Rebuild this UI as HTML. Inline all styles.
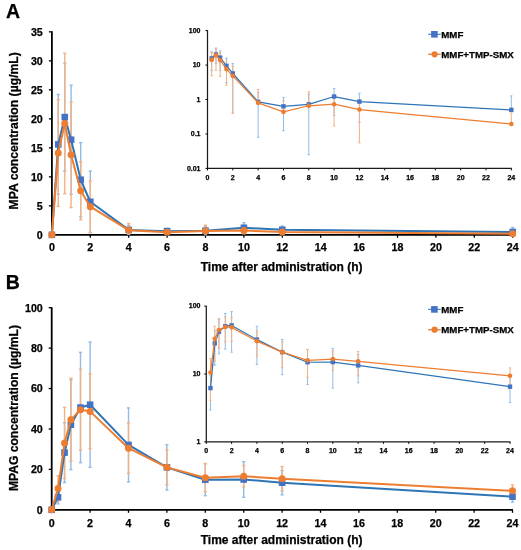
<!DOCTYPE html>
<html><head><meta charset="utf-8"><style>
html,body{margin:0;padding:0;background:#fff;}
svg{display:block;will-change:transform;}
text{font-family:"Liberation Sans",sans-serif;font-weight:bold;stroke:#000;stroke-width:0.25px;}
</style></head><body>
<svg width="521" height="550" viewBox="0 0 521 550">
<rect width="521" height="550" fill="#fff"/>
<text x="6.00" y="17.60" font-size="19.5" text-anchor="start"  >A</text>
<line x1="51.90" y1="234.85" x2="51.90" y2="237.85" stroke="#000" stroke-width="1.3"/>
<text x="51.90" y="251.30" font-size="10.7" text-anchor="middle"  >0</text>
<line x1="90.30" y1="234.85" x2="90.30" y2="237.85" stroke="#000" stroke-width="1.3"/>
<text x="90.30" y="251.30" font-size="10.7" text-anchor="middle"  >2</text>
<line x1="128.70" y1="234.85" x2="128.70" y2="237.85" stroke="#000" stroke-width="1.3"/>
<text x="128.70" y="251.30" font-size="10.7" text-anchor="middle"  >4</text>
<line x1="167.10" y1="234.85" x2="167.10" y2="237.85" stroke="#000" stroke-width="1.3"/>
<text x="167.10" y="251.30" font-size="10.7" text-anchor="middle"  >6</text>
<line x1="205.50" y1="234.85" x2="205.50" y2="237.85" stroke="#000" stroke-width="1.3"/>
<text x="205.50" y="251.30" font-size="10.7" text-anchor="middle"  >8</text>
<line x1="243.90" y1="234.85" x2="243.90" y2="237.85" stroke="#000" stroke-width="1.3"/>
<text x="243.90" y="251.30" font-size="10.7" text-anchor="middle"  >10</text>
<line x1="282.30" y1="234.85" x2="282.30" y2="237.85" stroke="#000" stroke-width="1.3"/>
<text x="282.30" y="251.30" font-size="10.7" text-anchor="middle"  >12</text>
<line x1="320.70" y1="234.85" x2="320.70" y2="237.85" stroke="#000" stroke-width="1.3"/>
<text x="320.70" y="251.30" font-size="10.7" text-anchor="middle"  >14</text>
<line x1="359.10" y1="234.85" x2="359.10" y2="237.85" stroke="#000" stroke-width="1.3"/>
<text x="359.10" y="251.30" font-size="10.7" text-anchor="middle"  >16</text>
<line x1="397.50" y1="234.85" x2="397.50" y2="237.85" stroke="#000" stroke-width="1.3"/>
<text x="397.50" y="251.30" font-size="10.7" text-anchor="middle"  >18</text>
<line x1="435.90" y1="234.85" x2="435.90" y2="237.85" stroke="#000" stroke-width="1.3"/>
<text x="435.90" y="251.30" font-size="10.7" text-anchor="middle"  >20</text>
<line x1="474.30" y1="234.85" x2="474.30" y2="237.85" stroke="#000" stroke-width="1.3"/>
<text x="474.30" y="251.30" font-size="10.7" text-anchor="middle"  >22</text>
<line x1="512.70" y1="234.85" x2="512.70" y2="237.85" stroke="#000" stroke-width="1.3"/>
<text x="512.70" y="251.30" font-size="10.7" text-anchor="middle"  >24</text>
<line x1="48.90" y1="234.85" x2="51.90" y2="234.85" stroke="#000" stroke-width="1.3"/>
<text x="42.80" y="238.65" font-size="10.7" text-anchor="end"  >0</text>
<line x1="48.90" y1="205.85" x2="51.90" y2="205.85" stroke="#000" stroke-width="1.3"/>
<text x="42.80" y="209.65" font-size="10.7" text-anchor="end"  >5</text>
<line x1="48.90" y1="176.85" x2="51.90" y2="176.85" stroke="#000" stroke-width="1.3"/>
<text x="42.80" y="180.65" font-size="10.7" text-anchor="end"  >10</text>
<line x1="48.90" y1="147.85" x2="51.90" y2="147.85" stroke="#000" stroke-width="1.3"/>
<text x="42.80" y="151.65" font-size="10.7" text-anchor="end"  >15</text>
<line x1="48.90" y1="118.85" x2="51.90" y2="118.85" stroke="#000" stroke-width="1.3"/>
<text x="42.80" y="122.65" font-size="10.7" text-anchor="end"  >20</text>
<line x1="48.90" y1="89.85" x2="51.90" y2="89.85" stroke="#000" stroke-width="1.3"/>
<text x="42.80" y="93.65" font-size="10.7" text-anchor="end"  >25</text>
<line x1="48.90" y1="60.85" x2="51.90" y2="60.85" stroke="#000" stroke-width="1.3"/>
<text x="42.80" y="64.65" font-size="10.7" text-anchor="end"  >30</text>
<line x1="48.90" y1="31.85" x2="51.90" y2="31.85" stroke="#000" stroke-width="1.3"/>
<text x="42.80" y="35.65" font-size="10.7" text-anchor="end"  >35</text>
<line x1="51.90" y1="31.35" x2="51.90" y2="235.65" stroke="#000" stroke-width="1.8"/>
<line x1="51.10" y1="234.85" x2="513.20" y2="234.85" stroke="#000" stroke-width="1.8"/>
<line x1="58.24" y1="94.49" x2="58.24" y2="144.37" stroke="#92bce6" stroke-width="1.4"/>
<line x1="56.64" y1="94.49" x2="59.84" y2="94.49" stroke="#92bce6" stroke-width="1.4"/>
<line x1="58.24" y1="144.37" x2="58.24" y2="194.25" stroke="#92bce6" stroke-width="1.4"/>
<line x1="56.64" y1="194.25" x2="59.84" y2="194.25" stroke="#92bce6" stroke-width="1.4"/>
<line x1="64.76" y1="63.17" x2="64.76" y2="117.11" stroke="#92bce6" stroke-width="1.4"/>
<line x1="63.16" y1="63.17" x2="66.36" y2="63.17" stroke="#92bce6" stroke-width="1.4"/>
<line x1="64.76" y1="117.11" x2="64.76" y2="171.05" stroke="#92bce6" stroke-width="1.4"/>
<line x1="63.16" y1="171.05" x2="66.36" y2="171.05" stroke="#92bce6" stroke-width="1.4"/>
<line x1="71.10" y1="85.21" x2="71.10" y2="139.73" stroke="#92bce6" stroke-width="1.4"/>
<line x1="69.50" y1="85.21" x2="72.70" y2="85.21" stroke="#92bce6" stroke-width="1.4"/>
<line x1="71.10" y1="139.73" x2="71.10" y2="194.25" stroke="#92bce6" stroke-width="1.4"/>
<line x1="69.50" y1="194.25" x2="72.70" y2="194.25" stroke="#92bce6" stroke-width="1.4"/>
<line x1="80.70" y1="142.63" x2="80.70" y2="179.75" stroke="#92bce6" stroke-width="1.4"/>
<line x1="79.10" y1="142.63" x2="82.30" y2="142.63" stroke="#92bce6" stroke-width="1.4"/>
<line x1="80.70" y1="179.75" x2="80.70" y2="216.87" stroke="#92bce6" stroke-width="1.4"/>
<line x1="79.10" y1="216.87" x2="82.30" y2="216.87" stroke="#92bce6" stroke-width="1.4"/>
<line x1="90.30" y1="171.05" x2="90.30" y2="201.79" stroke="#92bce6" stroke-width="1.4"/>
<line x1="88.70" y1="171.05" x2="91.90" y2="171.05" stroke="#92bce6" stroke-width="1.4"/>
<line x1="90.30" y1="201.79" x2="90.30" y2="232.53" stroke="#92bce6" stroke-width="1.4"/>
<line x1="88.70" y1="232.53" x2="91.90" y2="232.53" stroke="#92bce6" stroke-width="1.4"/>
<line x1="128.70" y1="225.45" x2="128.70" y2="229.92" stroke="#92bce6" stroke-width="1.4"/>
<line x1="127.10" y1="225.45" x2="130.30" y2="225.45" stroke="#92bce6" stroke-width="1.4"/>
<line x1="128.70" y1="229.92" x2="128.70" y2="234.39" stroke="#92bce6" stroke-width="1.4"/>
<line x1="127.10" y1="234.39" x2="130.30" y2="234.39" stroke="#92bce6" stroke-width="1.4"/>
<line x1="167.10" y1="228.21" x2="167.10" y2="231.17" stroke="#92bce6" stroke-width="1.4"/>
<line x1="165.50" y1="228.21" x2="168.70" y2="228.21" stroke="#92bce6" stroke-width="1.4"/>
<line x1="167.10" y1="231.17" x2="167.10" y2="234.13" stroke="#92bce6" stroke-width="1.4"/>
<line x1="165.50" y1="234.13" x2="168.70" y2="234.13" stroke="#92bce6" stroke-width="1.4"/>
<line x1="205.50" y1="226.64" x2="205.50" y2="230.67" stroke="#92bce6" stroke-width="1.4"/>
<line x1="203.90" y1="226.64" x2="207.10" y2="226.64" stroke="#92bce6" stroke-width="1.4"/>
<line x1="205.50" y1="230.67" x2="205.50" y2="234.70" stroke="#92bce6" stroke-width="1.4"/>
<line x1="203.90" y1="234.70" x2="207.10" y2="234.70" stroke="#92bce6" stroke-width="1.4"/>
<line x1="243.90" y1="222.67" x2="243.90" y2="227.77" stroke="#92bce6" stroke-width="1.4"/>
<line x1="242.30" y1="222.67" x2="245.50" y2="222.67" stroke="#92bce6" stroke-width="1.4"/>
<line x1="243.90" y1="227.77" x2="243.90" y2="232.88" stroke="#92bce6" stroke-width="1.4"/>
<line x1="242.30" y1="232.88" x2="245.50" y2="232.88" stroke="#92bce6" stroke-width="1.4"/>
<line x1="282.30" y1="226.03" x2="282.30" y2="229.80" stroke="#92bce6" stroke-width="1.4"/>
<line x1="280.70" y1="226.03" x2="283.90" y2="226.03" stroke="#92bce6" stroke-width="1.4"/>
<line x1="282.30" y1="229.80" x2="282.30" y2="233.57" stroke="#92bce6" stroke-width="1.4"/>
<line x1="280.70" y1="233.57" x2="283.90" y2="233.57" stroke="#92bce6" stroke-width="1.4"/>
<line x1="512.70" y1="227.48" x2="512.70" y2="231.95" stroke="#92bce6" stroke-width="1.4"/>
<line x1="511.10" y1="227.48" x2="514.30" y2="227.48" stroke="#92bce6" stroke-width="1.4"/>
<line x1="512.70" y1="231.95" x2="512.70" y2="234.85" stroke="#92bce6" stroke-width="1.4"/>
<line x1="58.24" y1="99.71" x2="58.24" y2="153.07" stroke="#f4b183" stroke-width="1.4"/>
<line x1="56.64" y1="99.71" x2="59.84" y2="99.71" stroke="#f4b183" stroke-width="1.4"/>
<line x1="58.24" y1="153.07" x2="58.24" y2="206.43" stroke="#f4b183" stroke-width="1.4"/>
<line x1="56.64" y1="206.43" x2="59.84" y2="206.43" stroke="#f4b183" stroke-width="1.4"/>
<line x1="64.76" y1="53.31" x2="64.76" y2="123.49" stroke="#f4b183" stroke-width="1.4"/>
<line x1="63.16" y1="53.31" x2="66.36" y2="53.31" stroke="#f4b183" stroke-width="1.4"/>
<line x1="64.76" y1="123.49" x2="64.76" y2="193.67" stroke="#f4b183" stroke-width="1.4"/>
<line x1="63.16" y1="193.67" x2="66.36" y2="193.67" stroke="#f4b183" stroke-width="1.4"/>
<line x1="71.10" y1="102.03" x2="71.10" y2="154.81" stroke="#f4b183" stroke-width="1.4"/>
<line x1="69.50" y1="102.03" x2="72.70" y2="102.03" stroke="#f4b183" stroke-width="1.4"/>
<line x1="71.10" y1="154.81" x2="71.10" y2="207.59" stroke="#f4b183" stroke-width="1.4"/>
<line x1="69.50" y1="207.59" x2="72.70" y2="207.59" stroke="#f4b183" stroke-width="1.4"/>
<line x1="80.70" y1="161.77" x2="80.70" y2="190.77" stroke="#f4b183" stroke-width="1.4"/>
<line x1="79.10" y1="161.77" x2="82.30" y2="161.77" stroke="#f4b183" stroke-width="1.4"/>
<line x1="80.70" y1="190.77" x2="80.70" y2="219.77" stroke="#f4b183" stroke-width="1.4"/>
<line x1="79.10" y1="219.77" x2="82.30" y2="219.77" stroke="#f4b183" stroke-width="1.4"/>
<line x1="90.30" y1="180.91" x2="90.30" y2="206.72" stroke="#f4b183" stroke-width="1.4"/>
<line x1="88.70" y1="180.91" x2="91.90" y2="180.91" stroke="#f4b183" stroke-width="1.4"/>
<line x1="90.30" y1="206.72" x2="90.30" y2="232.53" stroke="#f4b183" stroke-width="1.4"/>
<line x1="88.70" y1="232.53" x2="91.90" y2="232.53" stroke="#f4b183" stroke-width="1.4"/>
<line x1="128.70" y1="223.54" x2="128.70" y2="230.21" stroke="#f4b183" stroke-width="1.4"/>
<line x1="127.10" y1="223.54" x2="130.30" y2="223.54" stroke="#f4b183" stroke-width="1.4"/>
<line x1="128.70" y1="230.21" x2="128.70" y2="234.85" stroke="#f4b183" stroke-width="1.4"/>
<line x1="167.10" y1="229.59" x2="167.10" y2="232.32" stroke="#f4b183" stroke-width="1.4"/>
<line x1="165.50" y1="229.59" x2="168.70" y2="229.59" stroke="#f4b183" stroke-width="1.4"/>
<line x1="167.10" y1="232.32" x2="167.10" y2="234.85" stroke="#f4b183" stroke-width="1.4"/>
<line x1="205.50" y1="225.18" x2="205.50" y2="231.03" stroke="#f4b183" stroke-width="1.4"/>
<line x1="203.90" y1="225.18" x2="207.10" y2="225.18" stroke="#f4b183" stroke-width="1.4"/>
<line x1="205.50" y1="231.03" x2="205.50" y2="234.85" stroke="#f4b183" stroke-width="1.4"/>
<line x1="243.90" y1="227.37" x2="243.90" y2="230.62" stroke="#f4b183" stroke-width="1.4"/>
<line x1="242.30" y1="227.37" x2="245.50" y2="227.37" stroke="#f4b183" stroke-width="1.4"/>
<line x1="243.90" y1="230.62" x2="243.90" y2="233.86" stroke="#f4b183" stroke-width="1.4"/>
<line x1="242.30" y1="233.86" x2="245.50" y2="233.86" stroke="#f4b183" stroke-width="1.4"/>
<line x1="282.30" y1="229.25" x2="282.30" y2="231.89" stroke="#f4b183" stroke-width="1.4"/>
<line x1="280.70" y1="229.25" x2="283.90" y2="229.25" stroke="#f4b183" stroke-width="1.4"/>
<line x1="282.30" y1="231.89" x2="282.30" y2="234.53" stroke="#f4b183" stroke-width="1.4"/>
<line x1="280.70" y1="234.53" x2="283.90" y2="234.53" stroke="#f4b183" stroke-width="1.4"/>
<line x1="512.70" y1="232.51" x2="512.70" y2="233.72" stroke="#f4b183" stroke-width="1.4"/>
<line x1="511.10" y1="232.51" x2="514.30" y2="232.51" stroke="#f4b183" stroke-width="1.4"/>
<line x1="512.70" y1="233.72" x2="512.70" y2="234.85" stroke="#f4b183" stroke-width="1.4"/>
<polyline points="51.90,234.85 58.24,144.37 64.76,117.11 71.10,139.73 80.70,179.75 90.30,201.79 128.70,229.92 167.10,231.17 205.50,230.67 243.90,227.77 282.30,229.80 512.70,231.95" fill="none" stroke="#2e75b6" stroke-width="2" stroke-linejoin="round"/>
<rect x="48.60" y="231.55" width="6.6" height="6.6" fill="#4472c4"/>
<rect x="54.94" y="141.07" width="6.6" height="6.6" fill="#4472c4"/>
<rect x="61.46" y="113.81" width="6.6" height="6.6" fill="#4472c4"/>
<rect x="67.80" y="136.43" width="6.6" height="6.6" fill="#4472c4"/>
<rect x="77.40" y="176.45" width="6.6" height="6.6" fill="#4472c4"/>
<rect x="87.00" y="198.49" width="6.6" height="6.6" fill="#4472c4"/>
<rect x="125.40" y="226.62" width="6.6" height="6.6" fill="#4472c4"/>
<rect x="163.80" y="227.87" width="6.6" height="6.6" fill="#4472c4"/>
<rect x="202.20" y="227.37" width="6.6" height="6.6" fill="#4472c4"/>
<rect x="240.60" y="224.47" width="6.6" height="6.6" fill="#4472c4"/>
<rect x="279.00" y="226.50" width="6.6" height="6.6" fill="#4472c4"/>
<rect x="509.40" y="228.65" width="6.6" height="6.6" fill="#4472c4"/>
<polyline points="51.90,234.85 58.24,153.07 64.76,123.49 71.10,154.81 80.70,190.77 90.30,206.72 128.70,230.21 167.10,232.32 205.50,231.03 243.90,230.62 282.30,231.89 512.70,233.72" fill="none" stroke="#ed7d31" stroke-width="2" stroke-linejoin="round"/>
<circle cx="51.90" cy="234.85" r="3.5" fill="#ed7d31"/>
<circle cx="58.24" cy="153.07" r="3.5" fill="#ed7d31"/>
<circle cx="64.76" cy="123.49" r="3.5" fill="#ed7d31"/>
<circle cx="71.10" cy="154.81" r="3.5" fill="#ed7d31"/>
<circle cx="80.70" cy="190.77" r="3.5" fill="#ed7d31"/>
<circle cx="90.30" cy="206.72" r="3.5" fill="#ed7d31"/>
<circle cx="128.70" cy="230.21" r="3.5" fill="#ed7d31"/>
<circle cx="167.10" cy="232.32" r="3.5" fill="#ed7d31"/>
<circle cx="205.50" cy="231.03" r="3.5" fill="#ed7d31"/>
<circle cx="243.90" cy="230.62" r="3.5" fill="#ed7d31"/>
<circle cx="282.30" cy="231.89" r="3.5" fill="#ed7d31"/>
<circle cx="512.70" cy="233.72" r="3.5" fill="#ed7d31"/>
<text transform="translate(17.8,130.8) rotate(-90)" font-size="12.2" text-anchor="middle" >MPA concentration (µg/mL)</text>
<text x="281.60" y="270.60" font-size="12" text-anchor="middle"  >Time after administration (h)</text>
<line x1="207.50" y1="168.40" x2="207.50" y2="170.40" stroke="#000" stroke-width="1"/>
<text x="207.50" y="179.50" font-size="7" text-anchor="middle"  >0</text>
<line x1="232.82" y1="168.40" x2="232.82" y2="170.40" stroke="#000" stroke-width="1"/>
<text x="232.82" y="179.50" font-size="7" text-anchor="middle"  >2</text>
<line x1="258.14" y1="168.40" x2="258.14" y2="170.40" stroke="#000" stroke-width="1"/>
<text x="258.14" y="179.50" font-size="7" text-anchor="middle"  >4</text>
<line x1="283.46" y1="168.40" x2="283.46" y2="170.40" stroke="#000" stroke-width="1"/>
<text x="283.46" y="179.50" font-size="7" text-anchor="middle"  >6</text>
<line x1="308.78" y1="168.40" x2="308.78" y2="170.40" stroke="#000" stroke-width="1"/>
<text x="308.78" y="179.50" font-size="7" text-anchor="middle"  >8</text>
<line x1="334.10" y1="168.40" x2="334.10" y2="170.40" stroke="#000" stroke-width="1"/>
<text x="334.10" y="179.50" font-size="7" text-anchor="middle"  >10</text>
<line x1="359.42" y1="168.40" x2="359.42" y2="170.40" stroke="#000" stroke-width="1"/>
<text x="359.42" y="179.50" font-size="7" text-anchor="middle"  >12</text>
<line x1="384.74" y1="168.40" x2="384.74" y2="170.40" stroke="#000" stroke-width="1"/>
<text x="384.74" y="179.50" font-size="7" text-anchor="middle"  >14</text>
<line x1="410.06" y1="168.40" x2="410.06" y2="170.40" stroke="#000" stroke-width="1"/>
<text x="410.06" y="179.50" font-size="7" text-anchor="middle"  >16</text>
<line x1="435.38" y1="168.40" x2="435.38" y2="170.40" stroke="#000" stroke-width="1"/>
<text x="435.38" y="179.50" font-size="7" text-anchor="middle"  >18</text>
<line x1="460.70" y1="168.40" x2="460.70" y2="170.40" stroke="#000" stroke-width="1"/>
<text x="460.70" y="179.50" font-size="7" text-anchor="middle"  >20</text>
<line x1="486.02" y1="168.40" x2="486.02" y2="170.40" stroke="#000" stroke-width="1"/>
<text x="486.02" y="179.50" font-size="7" text-anchor="middle"  >22</text>
<line x1="511.34" y1="168.40" x2="511.34" y2="170.40" stroke="#000" stroke-width="1"/>
<text x="511.34" y="179.50" font-size="7" text-anchor="middle"  >24</text>
<line x1="205.50" y1="168.40" x2="207.50" y2="168.40" stroke="#000" stroke-width="1"/>
<text x="200.50" y="170.60" font-size="7" text-anchor="end"  >0.01</text>
<line x1="205.50" y1="133.95" x2="207.50" y2="133.95" stroke="#000" stroke-width="1"/>
<text x="200.50" y="136.15" font-size="7" text-anchor="end"  >0.1</text>
<line x1="205.50" y1="99.50" x2="207.50" y2="99.50" stroke="#000" stroke-width="1"/>
<text x="200.50" y="101.70" font-size="7" text-anchor="end"  >1</text>
<line x1="205.50" y1="65.05" x2="207.50" y2="65.05" stroke="#000" stroke-width="1"/>
<text x="200.50" y="67.25" font-size="7" text-anchor="end"  >10</text>
<line x1="205.50" y1="30.60" x2="207.50" y2="30.60" stroke="#000" stroke-width="1"/>
<text x="200.50" y="32.80" font-size="7" text-anchor="end"  >100</text>
<line x1="207.50" y1="30.10" x2="207.50" y2="169.00" stroke="#1a1a1a" stroke-width="1.25"/>
<line x1="206.90" y1="168.40" x2="511.74" y2="168.40" stroke="#1a1a1a" stroke-width="1.25"/>
<line x1="211.68" y1="51.83" x2="211.68" y2="58.40" stroke="#92bce6" stroke-width="1"/>
<line x1="210.48" y1="51.83" x2="212.88" y2="51.83" stroke="#92bce6" stroke-width="1"/>
<line x1="211.68" y1="58.40" x2="211.68" y2="70.39" stroke="#92bce6" stroke-width="1"/>
<line x1="210.48" y1="70.39" x2="212.88" y2="70.39" stroke="#92bce6" stroke-width="1"/>
<line x1="215.98" y1="48.81" x2="215.98" y2="54.46" stroke="#92bce6" stroke-width="1"/>
<line x1="214.78" y1="48.81" x2="217.18" y2="48.81" stroke="#92bce6" stroke-width="1"/>
<line x1="215.98" y1="54.46" x2="215.98" y2="63.62" stroke="#92bce6" stroke-width="1"/>
<line x1="214.78" y1="63.62" x2="217.18" y2="63.62" stroke="#92bce6" stroke-width="1"/>
<line x1="220.16" y1="50.87" x2="220.16" y2="57.65" stroke="#92bce6" stroke-width="1"/>
<line x1="218.96" y1="50.87" x2="221.36" y2="50.87" stroke="#92bce6" stroke-width="1"/>
<line x1="220.16" y1="57.65" x2="220.16" y2="70.39" stroke="#92bce6" stroke-width="1"/>
<line x1="218.96" y1="70.39" x2="221.36" y2="70.39" stroke="#92bce6" stroke-width="1"/>
<line x1="226.49" y1="58.11" x2="226.49" y2="65.82" stroke="#92bce6" stroke-width="1"/>
<line x1="225.29" y1="58.11" x2="227.69" y2="58.11" stroke="#92bce6" stroke-width="1"/>
<line x1="226.49" y1="65.82" x2="226.49" y2="82.57" stroke="#92bce6" stroke-width="1"/>
<line x1="225.29" y1="82.57" x2="227.69" y2="82.57" stroke="#92bce6" stroke-width="1"/>
<line x1="232.82" y1="63.62" x2="232.82" y2="73.46" stroke="#92bce6" stroke-width="1"/>
<line x1="231.62" y1="63.62" x2="234.02" y2="63.62" stroke="#92bce6" stroke-width="1"/>
<line x1="232.82" y1="73.46" x2="232.82" y2="113.21" stroke="#92bce6" stroke-width="1"/>
<line x1="231.62" y1="113.21" x2="234.02" y2="113.21" stroke="#92bce6" stroke-width="1"/>
<line x1="258.14" y1="92.28" x2="258.14" y2="101.93" stroke="#92bce6" stroke-width="1"/>
<line x1="256.94" y1="92.28" x2="259.34" y2="92.28" stroke="#92bce6" stroke-width="1"/>
<line x1="258.14" y1="101.93" x2="258.14" y2="137.29" stroke="#92bce6" stroke-width="1"/>
<line x1="256.94" y1="137.29" x2="259.34" y2="137.29" stroke="#92bce6" stroke-width="1"/>
<line x1="283.46" y1="97.49" x2="283.46" y2="106.32" stroke="#92bce6" stroke-width="1"/>
<line x1="282.26" y1="97.49" x2="284.66" y2="97.49" stroke="#92bce6" stroke-width="1"/>
<line x1="283.46" y1="106.32" x2="283.46" y2="130.73" stroke="#92bce6" stroke-width="1"/>
<line x1="282.26" y1="130.73" x2="284.66" y2="130.73" stroke="#92bce6" stroke-width="1"/>
<line x1="308.78" y1="94.31" x2="308.78" y2="104.41" stroke="#92bce6" stroke-width="1"/>
<line x1="307.58" y1="94.31" x2="309.98" y2="94.31" stroke="#92bce6" stroke-width="1"/>
<line x1="308.78" y1="104.41" x2="308.78" y2="154.69" stroke="#92bce6" stroke-width="1"/>
<line x1="307.58" y1="154.69" x2="309.98" y2="154.69" stroke="#92bce6" stroke-width="1"/>
<line x1="334.10" y1="88.40" x2="334.10" y2="96.52" stroke="#92bce6" stroke-width="1"/>
<line x1="332.90" y1="88.40" x2="335.30" y2="88.40" stroke="#92bce6" stroke-width="1"/>
<line x1="334.10" y1="96.52" x2="334.10" y2="115.64" stroke="#92bce6" stroke-width="1"/>
<line x1="332.90" y1="115.64" x2="335.30" y2="115.64" stroke="#92bce6" stroke-width="1"/>
<line x1="359.42" y1="93.24" x2="359.42" y2="101.58" stroke="#92bce6" stroke-width="1"/>
<line x1="358.22" y1="93.24" x2="360.62" y2="93.24" stroke="#92bce6" stroke-width="1"/>
<line x1="359.42" y1="101.58" x2="359.42" y2="122.15" stroke="#92bce6" stroke-width="1"/>
<line x1="358.22" y1="122.15" x2="360.62" y2="122.15" stroke="#92bce6" stroke-width="1"/>
<line x1="511.34" y1="95.92" x2="511.34" y2="109.87" stroke="#92bce6" stroke-width="1"/>
<line x1="510.14" y1="95.92" x2="512.54" y2="95.92" stroke="#92bce6" stroke-width="1"/>
<line x1="211.68" y1="52.39" x2="211.68" y2="59.91" stroke="#f4b183" stroke-width="1"/>
<line x1="210.48" y1="52.39" x2="212.88" y2="52.39" stroke="#f4b183" stroke-width="1"/>
<line x1="211.68" y1="59.91" x2="211.68" y2="75.72" stroke="#f4b183" stroke-width="1"/>
<line x1="210.48" y1="75.72" x2="212.88" y2="75.72" stroke="#f4b183" stroke-width="1"/>
<line x1="215.98" y1="47.98" x2="215.98" y2="55.29" stroke="#f4b183" stroke-width="1"/>
<line x1="214.78" y1="47.98" x2="217.18" y2="47.98" stroke="#f4b183" stroke-width="1"/>
<line x1="215.98" y1="55.29" x2="215.98" y2="70.17" stroke="#f4b183" stroke-width="1"/>
<line x1="214.78" y1="70.17" x2="217.18" y2="70.17" stroke="#f4b183" stroke-width="1"/>
<line x1="220.16" y1="52.65" x2="220.16" y2="60.23" stroke="#f4b183" stroke-width="1"/>
<line x1="218.96" y1="52.65" x2="221.36" y2="52.65" stroke="#f4b183" stroke-width="1"/>
<line x1="220.16" y1="60.23" x2="220.16" y2="76.35" stroke="#f4b183" stroke-width="1"/>
<line x1="218.96" y1="76.35" x2="221.36" y2="76.35" stroke="#f4b183" stroke-width="1"/>
<line x1="226.49" y1="61.59" x2="226.49" y2="69.16" stroke="#f4b183" stroke-width="1"/>
<line x1="225.29" y1="61.59" x2="227.69" y2="61.59" stroke="#f4b183" stroke-width="1"/>
<line x1="226.49" y1="69.16" x2="226.49" y2="85.20" stroke="#f4b183" stroke-width="1"/>
<line x1="225.29" y1="85.20" x2="227.69" y2="85.20" stroke="#f4b183" stroke-width="1"/>
<line x1="232.82" y1="66.14" x2="232.82" y2="75.88" stroke="#f4b183" stroke-width="1"/>
<line x1="231.62" y1="66.14" x2="234.02" y2="66.14" stroke="#f4b183" stroke-width="1"/>
<line x1="232.82" y1="75.88" x2="232.82" y2="113.21" stroke="#f4b183" stroke-width="1"/>
<line x1="231.62" y1="113.21" x2="234.02" y2="113.21" stroke="#f4b183" stroke-width="1"/>
<line x1="258.14" y1="89.51" x2="258.14" y2="102.84" stroke="#f4b183" stroke-width="1"/>
<line x1="256.94" y1="89.51" x2="259.34" y2="89.51" stroke="#f4b183" stroke-width="1"/>
<line x1="283.46" y1="100.96" x2="283.46" y2="111.89" stroke="#f4b183" stroke-width="1"/>
<line x1="282.26" y1="100.96" x2="284.66" y2="100.96" stroke="#f4b183" stroke-width="1"/>
<line x1="308.78" y1="91.85" x2="308.78" y2="105.76" stroke="#f4b183" stroke-width="1"/>
<line x1="307.58" y1="91.85" x2="309.98" y2="91.85" stroke="#f4b183" stroke-width="1"/>
<line x1="334.10" y1="95.69" x2="334.10" y2="104.21" stroke="#f4b183" stroke-width="1"/>
<line x1="332.90" y1="95.69" x2="335.30" y2="95.69" stroke="#f4b183" stroke-width="1"/>
<line x1="334.10" y1="104.21" x2="334.10" y2="126.01" stroke="#f4b183" stroke-width="1"/>
<line x1="332.90" y1="126.01" x2="335.30" y2="126.01" stroke="#f4b183" stroke-width="1"/>
<line x1="359.42" y1="100.03" x2="359.42" y2="109.57" stroke="#f4b183" stroke-width="1"/>
<line x1="358.22" y1="100.03" x2="360.62" y2="100.03" stroke="#f4b183" stroke-width="1"/>
<line x1="359.42" y1="109.57" x2="359.42" y2="142.89" stroke="#f4b183" stroke-width="1"/>
<line x1="358.22" y1="142.89" x2="360.62" y2="142.89" stroke="#f4b183" stroke-width="1"/>
<line x1="511.34" y1="113.06" x2="511.34" y2="124.04" stroke="#f4b183" stroke-width="1"/>
<line x1="510.14" y1="113.06" x2="512.54" y2="113.06" stroke="#f4b183" stroke-width="1"/>
<polyline points="211.68,58.40 215.98,54.46 220.16,57.65 226.49,65.82 232.82,73.46 258.14,101.93 283.46,106.32 308.78,104.41 334.10,96.52 359.42,101.58 511.34,109.87" fill="none" stroke="#2e75b6" stroke-width="1.25" stroke-linejoin="round"/>
<rect x="209.48" y="56.20" width="4.4" height="4.4" fill="#4472c4"/>
<rect x="213.78" y="52.26" width="4.4" height="4.4" fill="#4472c4"/>
<rect x="217.96" y="55.45" width="4.4" height="4.4" fill="#4472c4"/>
<rect x="224.29" y="63.62" width="4.4" height="4.4" fill="#4472c4"/>
<rect x="230.62" y="71.26" width="4.4" height="4.4" fill="#4472c4"/>
<rect x="255.94" y="99.73" width="4.4" height="4.4" fill="#4472c4"/>
<rect x="281.26" y="104.12" width="4.4" height="4.4" fill="#4472c4"/>
<rect x="306.58" y="102.21" width="4.4" height="4.4" fill="#4472c4"/>
<rect x="331.90" y="94.32" width="4.4" height="4.4" fill="#4472c4"/>
<rect x="357.22" y="99.38" width="4.4" height="4.4" fill="#4472c4"/>
<rect x="509.14" y="107.67" width="4.4" height="4.4" fill="#4472c4"/>
<polyline points="211.68,59.91 215.98,55.29 220.16,60.23 226.49,69.16 232.82,75.88 258.14,102.84 283.46,111.89 308.78,105.76 334.10,104.21 359.42,109.57 511.34,124.04" fill="none" stroke="#ed7d31" stroke-width="1.25" stroke-linejoin="round"/>
<circle cx="211.68" cy="59.91" r="2.3" fill="#ed7d31"/>
<circle cx="215.98" cy="55.29" r="2.3" fill="#ed7d31"/>
<circle cx="220.16" cy="60.23" r="2.3" fill="#ed7d31"/>
<circle cx="226.49" cy="69.16" r="2.3" fill="#ed7d31"/>
<circle cx="232.82" cy="75.88" r="2.3" fill="#ed7d31"/>
<circle cx="258.14" cy="102.84" r="2.3" fill="#ed7d31"/>
<circle cx="283.46" cy="111.89" r="2.3" fill="#ed7d31"/>
<circle cx="308.78" cy="105.76" r="2.3" fill="#ed7d31"/>
<circle cx="334.10" cy="104.21" r="2.3" fill="#ed7d31"/>
<circle cx="359.42" cy="109.57" r="2.3" fill="#ed7d31"/>
<circle cx="511.34" cy="124.04" r="2.3" fill="#ed7d31"/>
<line x1="428.20" y1="34.30" x2="440.70" y2="34.30" stroke="#3f86d0" stroke-width="1.2"/>
<rect x="431.10" y="31.00" width="6.6" height="6.6" fill="#4472c4"/>
<text x="441.30" y="37.80" font-size="9.7" text-anchor="start"  >MMF</text>
<line x1="428.20" y1="54.30" x2="440.70" y2="54.30" stroke="#ed7d31" stroke-width="1.3"/>
<circle cx="434.6" cy="54.3" r="3.1" fill="#ed7d31"/>
<text x="441.30" y="57.80" font-size="9.7" text-anchor="start"  >MMF+TMP-SMX</text>
<text x="5.80" y="288.90" font-size="19.5" text-anchor="start"  >B</text>
<line x1="51.70" y1="509.80" x2="51.70" y2="512.80" stroke="#000" stroke-width="1.3"/>
<text x="51.70" y="526.90" font-size="10.7" text-anchor="middle"  >0</text>
<line x1="90.10" y1="509.80" x2="90.10" y2="512.80" stroke="#000" stroke-width="1.3"/>
<text x="90.10" y="526.90" font-size="10.7" text-anchor="middle"  >2</text>
<line x1="128.50" y1="509.80" x2="128.50" y2="512.80" stroke="#000" stroke-width="1.3"/>
<text x="128.50" y="526.90" font-size="10.7" text-anchor="middle"  >4</text>
<line x1="166.90" y1="509.80" x2="166.90" y2="512.80" stroke="#000" stroke-width="1.3"/>
<text x="166.90" y="526.90" font-size="10.7" text-anchor="middle"  >6</text>
<line x1="205.30" y1="509.80" x2="205.30" y2="512.80" stroke="#000" stroke-width="1.3"/>
<text x="205.30" y="526.90" font-size="10.7" text-anchor="middle"  >8</text>
<line x1="243.70" y1="509.80" x2="243.70" y2="512.80" stroke="#000" stroke-width="1.3"/>
<text x="243.70" y="526.90" font-size="10.7" text-anchor="middle"  >10</text>
<line x1="282.10" y1="509.80" x2="282.10" y2="512.80" stroke="#000" stroke-width="1.3"/>
<text x="282.10" y="526.90" font-size="10.7" text-anchor="middle"  >12</text>
<line x1="320.50" y1="509.80" x2="320.50" y2="512.80" stroke="#000" stroke-width="1.3"/>
<text x="320.50" y="526.90" font-size="10.7" text-anchor="middle"  >14</text>
<line x1="358.90" y1="509.80" x2="358.90" y2="512.80" stroke="#000" stroke-width="1.3"/>
<text x="358.90" y="526.90" font-size="10.7" text-anchor="middle"  >16</text>
<line x1="397.30" y1="509.80" x2="397.30" y2="512.80" stroke="#000" stroke-width="1.3"/>
<text x="397.30" y="526.90" font-size="10.7" text-anchor="middle"  >18</text>
<line x1="435.70" y1="509.80" x2="435.70" y2="512.80" stroke="#000" stroke-width="1.3"/>
<text x="435.70" y="526.90" font-size="10.7" text-anchor="middle"  >20</text>
<line x1="474.10" y1="509.80" x2="474.10" y2="512.80" stroke="#000" stroke-width="1.3"/>
<text x="474.10" y="526.90" font-size="10.7" text-anchor="middle"  >22</text>
<line x1="512.50" y1="509.80" x2="512.50" y2="512.80" stroke="#000" stroke-width="1.3"/>
<text x="512.50" y="526.90" font-size="10.7" text-anchor="middle"  >24</text>
<line x1="48.70" y1="509.80" x2="51.70" y2="509.80" stroke="#000" stroke-width="1.3"/>
<text x="42.80" y="513.60" font-size="10.7" text-anchor="end"  >0</text>
<line x1="48.70" y1="469.38" x2="51.70" y2="469.38" stroke="#000" stroke-width="1.3"/>
<text x="42.80" y="473.18" font-size="10.7" text-anchor="end"  >20</text>
<line x1="48.70" y1="428.96" x2="51.70" y2="428.96" stroke="#000" stroke-width="1.3"/>
<text x="42.80" y="432.76" font-size="10.7" text-anchor="end"  >40</text>
<line x1="48.70" y1="388.54" x2="51.70" y2="388.54" stroke="#000" stroke-width="1.3"/>
<text x="42.80" y="392.34" font-size="10.7" text-anchor="end"  >60</text>
<line x1="48.70" y1="348.12" x2="51.70" y2="348.12" stroke="#000" stroke-width="1.3"/>
<text x="42.80" y="351.92" font-size="10.7" text-anchor="end"  >80</text>
<line x1="48.70" y1="307.70" x2="51.70" y2="307.70" stroke="#000" stroke-width="1.3"/>
<text x="42.80" y="311.50" font-size="10.7" text-anchor="end"  >100</text>
<line x1="51.70" y1="307.20" x2="51.70" y2="510.60" stroke="#000" stroke-width="1.8"/>
<line x1="50.90" y1="509.80" x2="513.00" y2="509.80" stroke="#000" stroke-width="1.8"/>
<line x1="58.04" y1="490.70" x2="58.04" y2="497.27" stroke="#92bce6" stroke-width="1.4"/>
<line x1="56.44" y1="490.70" x2="59.64" y2="490.70" stroke="#92bce6" stroke-width="1.4"/>
<line x1="58.04" y1="497.27" x2="58.04" y2="503.84" stroke="#92bce6" stroke-width="1.4"/>
<line x1="56.44" y1="503.84" x2="59.64" y2="503.84" stroke="#92bce6" stroke-width="1.4"/>
<line x1="64.56" y1="422.69" x2="64.56" y2="452.61" stroke="#92bce6" stroke-width="1.4"/>
<line x1="62.96" y1="422.69" x2="66.16" y2="422.69" stroke="#92bce6" stroke-width="1.4"/>
<line x1="64.56" y1="452.61" x2="64.56" y2="482.52" stroke="#92bce6" stroke-width="1.4"/>
<line x1="62.96" y1="482.52" x2="66.16" y2="482.52" stroke="#92bce6" stroke-width="1.4"/>
<line x1="70.90" y1="379.85" x2="70.90" y2="424.72" stroke="#92bce6" stroke-width="1.4"/>
<line x1="69.30" y1="379.85" x2="72.50" y2="379.85" stroke="#92bce6" stroke-width="1.4"/>
<line x1="70.90" y1="424.72" x2="70.90" y2="469.58" stroke="#92bce6" stroke-width="1.4"/>
<line x1="69.30" y1="469.58" x2="72.50" y2="469.58" stroke="#92bce6" stroke-width="1.4"/>
<line x1="80.50" y1="352.36" x2="80.50" y2="407.54" stroke="#92bce6" stroke-width="1.4"/>
<line x1="78.90" y1="352.36" x2="82.10" y2="352.36" stroke="#92bce6" stroke-width="1.4"/>
<line x1="80.50" y1="407.54" x2="80.50" y2="462.71" stroke="#92bce6" stroke-width="1.4"/>
<line x1="78.90" y1="462.71" x2="82.10" y2="462.71" stroke="#92bce6" stroke-width="1.4"/>
<line x1="90.10" y1="342.06" x2="90.10" y2="404.71" stroke="#92bce6" stroke-width="1.4"/>
<line x1="88.50" y1="342.06" x2="91.70" y2="342.06" stroke="#92bce6" stroke-width="1.4"/>
<line x1="90.10" y1="404.71" x2="90.10" y2="467.36" stroke="#92bce6" stroke-width="1.4"/>
<line x1="88.50" y1="467.36" x2="91.70" y2="467.36" stroke="#92bce6" stroke-width="1.4"/>
<line x1="128.50" y1="407.94" x2="128.50" y2="444.93" stroke="#92bce6" stroke-width="1.4"/>
<line x1="126.90" y1="407.94" x2="130.10" y2="407.94" stroke="#92bce6" stroke-width="1.4"/>
<line x1="128.50" y1="444.93" x2="128.50" y2="481.91" stroke="#92bce6" stroke-width="1.4"/>
<line x1="126.90" y1="481.91" x2="130.10" y2="481.91" stroke="#92bce6" stroke-width="1.4"/>
<line x1="166.90" y1="444.72" x2="166.90" y2="467.36" stroke="#92bce6" stroke-width="1.4"/>
<line x1="165.30" y1="444.72" x2="168.50" y2="444.72" stroke="#92bce6" stroke-width="1.4"/>
<line x1="166.90" y1="467.36" x2="166.90" y2="489.99" stroke="#92bce6" stroke-width="1.4"/>
<line x1="165.30" y1="489.99" x2="168.50" y2="489.99" stroke="#92bce6" stroke-width="1.4"/>
<line x1="205.30" y1="463.72" x2="205.30" y2="479.69" stroke="#92bce6" stroke-width="1.4"/>
<line x1="203.70" y1="463.72" x2="206.90" y2="463.72" stroke="#92bce6" stroke-width="1.4"/>
<line x1="205.30" y1="479.69" x2="205.30" y2="495.65" stroke="#92bce6" stroke-width="1.4"/>
<line x1="203.70" y1="495.65" x2="206.90" y2="495.65" stroke="#92bce6" stroke-width="1.4"/>
<line x1="243.70" y1="461.70" x2="243.70" y2="479.49" stroke="#92bce6" stroke-width="1.4"/>
<line x1="242.10" y1="461.70" x2="245.30" y2="461.70" stroke="#92bce6" stroke-width="1.4"/>
<line x1="243.70" y1="479.49" x2="243.70" y2="497.27" stroke="#92bce6" stroke-width="1.4"/>
<line x1="242.10" y1="497.27" x2="245.30" y2="497.27" stroke="#92bce6" stroke-width="1.4"/>
<line x1="282.10" y1="470.59" x2="282.10" y2="482.72" stroke="#92bce6" stroke-width="1.4"/>
<line x1="280.50" y1="470.59" x2="283.70" y2="470.59" stroke="#92bce6" stroke-width="1.4"/>
<line x1="282.10" y1="482.72" x2="282.10" y2="494.84" stroke="#92bce6" stroke-width="1.4"/>
<line x1="280.50" y1="494.84" x2="283.70" y2="494.84" stroke="#92bce6" stroke-width="1.4"/>
<line x1="512.50" y1="491.21" x2="512.50" y2="496.66" stroke="#92bce6" stroke-width="1.4"/>
<line x1="510.90" y1="491.21" x2="514.10" y2="491.21" stroke="#92bce6" stroke-width="1.4"/>
<line x1="512.50" y1="496.66" x2="512.50" y2="502.12" stroke="#92bce6" stroke-width="1.4"/>
<line x1="510.90" y1="502.12" x2="514.10" y2="502.12" stroke="#92bce6" stroke-width="1.4"/>
<line x1="58.04" y1="475.65" x2="58.04" y2="488.58" stroke="#f4b183" stroke-width="1.4"/>
<line x1="56.44" y1="475.65" x2="59.64" y2="475.65" stroke="#f4b183" stroke-width="1.4"/>
<line x1="58.04" y1="488.58" x2="58.04" y2="501.51" stroke="#f4b183" stroke-width="1.4"/>
<line x1="56.44" y1="501.51" x2="59.64" y2="501.51" stroke="#f4b183" stroke-width="1.4"/>
<line x1="64.56" y1="407.34" x2="64.56" y2="442.90" stroke="#f4b183" stroke-width="1.4"/>
<line x1="62.96" y1="407.34" x2="66.16" y2="407.34" stroke="#f4b183" stroke-width="1.4"/>
<line x1="64.56" y1="442.90" x2="64.56" y2="478.47" stroke="#f4b183" stroke-width="1.4"/>
<line x1="62.96" y1="478.47" x2="66.16" y2="478.47" stroke="#f4b183" stroke-width="1.4"/>
<line x1="70.90" y1="378.23" x2="70.90" y2="419.66" stroke="#f4b183" stroke-width="1.4"/>
<line x1="69.30" y1="378.23" x2="72.50" y2="378.23" stroke="#f4b183" stroke-width="1.4"/>
<line x1="70.90" y1="419.66" x2="70.90" y2="461.09" stroke="#f4b183" stroke-width="1.4"/>
<line x1="69.30" y1="461.09" x2="72.50" y2="461.09" stroke="#f4b183" stroke-width="1.4"/>
<line x1="80.50" y1="369.34" x2="80.50" y2="409.76" stroke="#f4b183" stroke-width="1.4"/>
<line x1="78.90" y1="369.34" x2="82.10" y2="369.34" stroke="#f4b183" stroke-width="1.4"/>
<line x1="80.50" y1="409.76" x2="80.50" y2="450.18" stroke="#f4b183" stroke-width="1.4"/>
<line x1="78.90" y1="450.18" x2="82.10" y2="450.18" stroke="#f4b183" stroke-width="1.4"/>
<line x1="90.10" y1="373.99" x2="90.10" y2="411.38" stroke="#f4b183" stroke-width="1.4"/>
<line x1="88.50" y1="373.99" x2="91.70" y2="373.99" stroke="#f4b183" stroke-width="1.4"/>
<line x1="90.10" y1="411.38" x2="90.10" y2="448.77" stroke="#f4b183" stroke-width="1.4"/>
<line x1="88.50" y1="448.77" x2="91.70" y2="448.77" stroke="#f4b183" stroke-width="1.4"/>
<line x1="128.50" y1="422.90" x2="128.50" y2="448.16" stroke="#f4b183" stroke-width="1.4"/>
<line x1="126.90" y1="422.90" x2="130.10" y2="422.90" stroke="#f4b183" stroke-width="1.4"/>
<line x1="128.50" y1="448.16" x2="128.50" y2="473.42" stroke="#f4b183" stroke-width="1.4"/>
<line x1="126.90" y1="473.42" x2="130.10" y2="473.42" stroke="#f4b183" stroke-width="1.4"/>
<line x1="166.90" y1="449.98" x2="166.90" y2="467.36" stroke="#f4b183" stroke-width="1.4"/>
<line x1="165.30" y1="449.98" x2="168.50" y2="449.98" stroke="#f4b183" stroke-width="1.4"/>
<line x1="166.90" y1="467.36" x2="166.90" y2="484.74" stroke="#f4b183" stroke-width="1.4"/>
<line x1="165.30" y1="484.74" x2="168.50" y2="484.74" stroke="#f4b183" stroke-width="1.4"/>
<line x1="205.30" y1="463.52" x2="205.30" y2="477.67" stroke="#f4b183" stroke-width="1.4"/>
<line x1="203.70" y1="463.52" x2="206.90" y2="463.52" stroke="#f4b183" stroke-width="1.4"/>
<line x1="205.30" y1="477.67" x2="205.30" y2="491.81" stroke="#f4b183" stroke-width="1.4"/>
<line x1="203.70" y1="491.81" x2="206.90" y2="491.81" stroke="#f4b183" stroke-width="1.4"/>
<line x1="243.70" y1="465.54" x2="243.70" y2="476.25" stroke="#f4b183" stroke-width="1.4"/>
<line x1="242.10" y1="465.54" x2="245.30" y2="465.54" stroke="#f4b183" stroke-width="1.4"/>
<line x1="243.70" y1="476.25" x2="243.70" y2="486.96" stroke="#f4b183" stroke-width="1.4"/>
<line x1="242.10" y1="486.96" x2="245.30" y2="486.96" stroke="#f4b183" stroke-width="1.4"/>
<line x1="282.10" y1="466.55" x2="282.10" y2="478.68" stroke="#f4b183" stroke-width="1.4"/>
<line x1="280.50" y1="466.55" x2="283.70" y2="466.55" stroke="#f4b183" stroke-width="1.4"/>
<line x1="282.10" y1="478.68" x2="282.10" y2="490.80" stroke="#f4b183" stroke-width="1.4"/>
<line x1="280.50" y1="490.80" x2="283.70" y2="490.80" stroke="#f4b183" stroke-width="1.4"/>
<line x1="512.50" y1="484.94" x2="512.50" y2="490.80" stroke="#f4b183" stroke-width="1.4"/>
<line x1="510.90" y1="484.94" x2="514.10" y2="484.94" stroke="#f4b183" stroke-width="1.4"/>
<line x1="512.50" y1="490.80" x2="512.50" y2="496.66" stroke="#f4b183" stroke-width="1.4"/>
<line x1="510.90" y1="496.66" x2="514.10" y2="496.66" stroke="#f4b183" stroke-width="1.4"/>
<polyline points="51.70,509.80 58.04,497.27 64.56,452.61 70.90,424.72 80.50,407.54 90.10,404.71 128.50,444.93 166.90,467.36 205.30,479.69 243.70,479.49 282.10,482.72 512.50,496.66" fill="none" stroke="#2e75b6" stroke-width="2" stroke-linejoin="round"/>
<rect x="48.40" y="506.50" width="6.6" height="6.6" fill="#4472c4"/>
<rect x="54.74" y="493.97" width="6.6" height="6.6" fill="#4472c4"/>
<rect x="61.26" y="449.31" width="6.6" height="6.6" fill="#4472c4"/>
<rect x="67.60" y="421.42" width="6.6" height="6.6" fill="#4472c4"/>
<rect x="77.20" y="404.24" width="6.6" height="6.6" fill="#4472c4"/>
<rect x="86.80" y="401.41" width="6.6" height="6.6" fill="#4472c4"/>
<rect x="125.20" y="441.63" width="6.6" height="6.6" fill="#4472c4"/>
<rect x="163.60" y="464.06" width="6.6" height="6.6" fill="#4472c4"/>
<rect x="202.00" y="476.39" width="6.6" height="6.6" fill="#4472c4"/>
<rect x="240.40" y="476.19" width="6.6" height="6.6" fill="#4472c4"/>
<rect x="278.80" y="479.42" width="6.6" height="6.6" fill="#4472c4"/>
<rect x="509.20" y="493.36" width="6.6" height="6.6" fill="#4472c4"/>
<polyline points="51.70,509.80 58.04,488.58 64.56,442.90 70.90,419.66 80.50,409.76 90.10,411.38 128.50,448.16 166.90,467.36 205.30,477.67 243.70,476.25 282.10,478.68 512.50,490.80" fill="none" stroke="#ed7d31" stroke-width="2" stroke-linejoin="round"/>
<circle cx="51.70" cy="509.80" r="3.5" fill="#ed7d31"/>
<circle cx="58.04" cy="488.58" r="3.5" fill="#ed7d31"/>
<circle cx="64.56" cy="442.90" r="3.5" fill="#ed7d31"/>
<circle cx="70.90" cy="419.66" r="3.5" fill="#ed7d31"/>
<circle cx="80.50" cy="409.76" r="3.5" fill="#ed7d31"/>
<circle cx="90.10" cy="411.38" r="3.5" fill="#ed7d31"/>
<circle cx="128.50" cy="448.16" r="3.5" fill="#ed7d31"/>
<circle cx="166.90" cy="467.36" r="3.5" fill="#ed7d31"/>
<circle cx="205.30" cy="477.67" r="3.5" fill="#ed7d31"/>
<circle cx="243.70" cy="476.25" r="3.5" fill="#ed7d31"/>
<circle cx="282.10" cy="478.68" r="3.5" fill="#ed7d31"/>
<circle cx="512.50" cy="490.80" r="3.5" fill="#ed7d31"/>
<text transform="translate(17.6,408) rotate(-90)" font-size="12.1" text-anchor="middle" >MPAG concentration (µg/mL)</text>
<text x="281.60" y="544.20" font-size="12" text-anchor="middle"  >Time after administration (h)</text>
<line x1="206.30" y1="441.85" x2="206.30" y2="443.85" stroke="#000" stroke-width="1"/>
<text x="206.30" y="453.40" font-size="7" text-anchor="middle"  >0</text>
<line x1="231.61" y1="441.85" x2="231.61" y2="443.85" stroke="#000" stroke-width="1"/>
<text x="231.61" y="453.40" font-size="7" text-anchor="middle"  >2</text>
<line x1="256.92" y1="441.85" x2="256.92" y2="443.85" stroke="#000" stroke-width="1"/>
<text x="256.92" y="453.40" font-size="7" text-anchor="middle"  >4</text>
<line x1="282.22" y1="441.85" x2="282.22" y2="443.85" stroke="#000" stroke-width="1"/>
<text x="282.22" y="453.40" font-size="7" text-anchor="middle"  >6</text>
<line x1="307.53" y1="441.85" x2="307.53" y2="443.85" stroke="#000" stroke-width="1"/>
<text x="307.53" y="453.40" font-size="7" text-anchor="middle"  >8</text>
<line x1="332.84" y1="441.85" x2="332.84" y2="443.85" stroke="#000" stroke-width="1"/>
<text x="332.84" y="453.40" font-size="7" text-anchor="middle"  >10</text>
<line x1="358.15" y1="441.85" x2="358.15" y2="443.85" stroke="#000" stroke-width="1"/>
<text x="358.15" y="453.40" font-size="7" text-anchor="middle"  >12</text>
<line x1="383.46" y1="441.85" x2="383.46" y2="443.85" stroke="#000" stroke-width="1"/>
<text x="383.46" y="453.40" font-size="7" text-anchor="middle"  >14</text>
<line x1="408.76" y1="441.85" x2="408.76" y2="443.85" stroke="#000" stroke-width="1"/>
<text x="408.76" y="453.40" font-size="7" text-anchor="middle"  >16</text>
<line x1="434.07" y1="441.85" x2="434.07" y2="443.85" stroke="#000" stroke-width="1"/>
<text x="434.07" y="453.40" font-size="7" text-anchor="middle"  >18</text>
<line x1="459.38" y1="441.85" x2="459.38" y2="443.85" stroke="#000" stroke-width="1"/>
<text x="459.38" y="453.40" font-size="7" text-anchor="middle"  >20</text>
<line x1="484.69" y1="441.85" x2="484.69" y2="443.85" stroke="#000" stroke-width="1"/>
<text x="484.69" y="453.40" font-size="7" text-anchor="middle"  >22</text>
<line x1="510.00" y1="441.85" x2="510.00" y2="443.85" stroke="#000" stroke-width="1"/>
<text x="510.00" y="453.40" font-size="7" text-anchor="middle"  >24</text>
<line x1="204.30" y1="441.85" x2="206.30" y2="441.85" stroke="#000" stroke-width="1"/>
<text x="200.50" y="444.05" font-size="7" text-anchor="end"  >1</text>
<line x1="204.30" y1="374.00" x2="206.30" y2="374.00" stroke="#000" stroke-width="1"/>
<text x="200.50" y="376.20" font-size="7" text-anchor="end"  >10</text>
<line x1="204.30" y1="306.15" x2="206.30" y2="306.15" stroke="#000" stroke-width="1"/>
<text x="200.50" y="308.35" font-size="7" text-anchor="end"  >100</text>
<line x1="206.30" y1="305.65" x2="206.30" y2="442.45" stroke="#1a1a1a" stroke-width="1.25"/>
<line x1="205.70" y1="441.85" x2="510.40" y2="441.85" stroke="#1a1a1a" stroke-width="1.25"/>
<line x1="210.48" y1="375.67" x2="210.48" y2="388.09" stroke="#92bce6" stroke-width="1"/>
<line x1="209.28" y1="375.67" x2="211.68" y2="375.67" stroke="#92bce6" stroke-width="1"/>
<line x1="210.48" y1="388.09" x2="210.48" y2="409.97" stroke="#92bce6" stroke-width="1"/>
<line x1="209.28" y1="409.97" x2="211.68" y2="409.97" stroke="#92bce6" stroke-width="1"/>
<line x1="214.78" y1="330.95" x2="214.78" y2="343.35" stroke="#92bce6" stroke-width="1"/>
<line x1="213.58" y1="330.95" x2="215.98" y2="330.95" stroke="#92bce6" stroke-width="1"/>
<line x1="214.78" y1="343.35" x2="214.78" y2="365.16" stroke="#92bce6" stroke-width="1"/>
<line x1="213.58" y1="365.16" x2="215.98" y2="365.16" stroke="#92bce6" stroke-width="1"/>
<line x1="218.95" y1="319.16" x2="218.95" y2="331.64" stroke="#92bce6" stroke-width="1"/>
<line x1="217.75" y1="319.16" x2="220.15" y2="319.16" stroke="#92bce6" stroke-width="1"/>
<line x1="218.95" y1="331.64" x2="218.95" y2="353.72" stroke="#92bce6" stroke-width="1"/>
<line x1="217.75" y1="353.72" x2="220.15" y2="353.72" stroke="#92bce6" stroke-width="1"/>
<line x1="225.28" y1="313.51" x2="225.28" y2="326.22" stroke="#92bce6" stroke-width="1"/>
<line x1="224.08" y1="313.51" x2="226.48" y2="313.51" stroke="#92bce6" stroke-width="1"/>
<line x1="225.28" y1="326.22" x2="225.28" y2="349.07" stroke="#92bce6" stroke-width="1"/>
<line x1="224.08" y1="349.07" x2="226.48" y2="349.07" stroke="#92bce6" stroke-width="1"/>
<line x1="231.61" y1="311.64" x2="231.61" y2="325.42" stroke="#92bce6" stroke-width="1"/>
<line x1="230.41" y1="311.64" x2="232.81" y2="311.64" stroke="#92bce6" stroke-width="1"/>
<line x1="231.61" y1="325.42" x2="231.61" y2="352.14" stroke="#92bce6" stroke-width="1"/>
<line x1="230.41" y1="352.14" x2="232.81" y2="352.14" stroke="#92bce6" stroke-width="1"/>
<line x1="256.92" y1="326.34" x2="256.92" y2="339.63" stroke="#92bce6" stroke-width="1"/>
<line x1="255.72" y1="326.34" x2="258.12" y2="326.34" stroke="#92bce6" stroke-width="1"/>
<line x1="256.92" y1="339.63" x2="256.92" y2="364.51" stroke="#92bce6" stroke-width="1"/>
<line x1="255.72" y1="364.51" x2="258.12" y2="364.51" stroke="#92bce6" stroke-width="1"/>
<line x1="282.22" y1="339.54" x2="282.22" y2="352.14" stroke="#92bce6" stroke-width="1"/>
<line x1="281.02" y1="339.54" x2="283.42" y2="339.54" stroke="#92bce6" stroke-width="1"/>
<line x1="282.22" y1="352.14" x2="282.22" y2="374.60" stroke="#92bce6" stroke-width="1"/>
<line x1="281.02" y1="374.60" x2="283.42" y2="374.60" stroke="#92bce6" stroke-width="1"/>
<line x1="307.53" y1="349.71" x2="307.53" y2="362.25" stroke="#92bce6" stroke-width="1"/>
<line x1="306.33" y1="349.71" x2="308.73" y2="349.71" stroke="#92bce6" stroke-width="1"/>
<line x1="307.53" y1="362.25" x2="307.53" y2="384.51" stroke="#92bce6" stroke-width="1"/>
<line x1="306.33" y1="384.51" x2="308.73" y2="384.51" stroke="#92bce6" stroke-width="1"/>
<line x1="332.84" y1="348.45" x2="332.84" y2="362.05" stroke="#92bce6" stroke-width="1"/>
<line x1="331.64" y1="348.45" x2="334.04" y2="348.45" stroke="#92bce6" stroke-width="1"/>
<line x1="332.84" y1="362.05" x2="332.84" y2="388.09" stroke="#92bce6" stroke-width="1"/>
<line x1="331.64" y1="388.09" x2="334.04" y2="388.09" stroke="#92bce6" stroke-width="1"/>
<line x1="358.15" y1="354.47" x2="358.15" y2="365.38" stroke="#92bce6" stroke-width="1"/>
<line x1="356.95" y1="354.47" x2="359.35" y2="354.47" stroke="#92bce6" stroke-width="1"/>
<line x1="358.15" y1="365.38" x2="358.15" y2="382.87" stroke="#92bce6" stroke-width="1"/>
<line x1="356.95" y1="382.87" x2="359.35" y2="382.87" stroke="#92bce6" stroke-width="1"/>
<line x1="510.00" y1="376.46" x2="510.00" y2="386.69" stroke="#92bce6" stroke-width="1"/>
<line x1="508.80" y1="376.46" x2="511.20" y2="376.46" stroke="#92bce6" stroke-width="1"/>
<line x1="510.00" y1="386.69" x2="510.00" y2="402.51" stroke="#92bce6" stroke-width="1"/>
<line x1="508.80" y1="402.51" x2="511.20" y2="402.51" stroke="#92bce6" stroke-width="1"/>
<line x1="210.48" y1="358.54" x2="210.48" y2="372.56" stroke="#f4b183" stroke-width="1"/>
<line x1="209.28" y1="358.54" x2="211.68" y2="358.54" stroke="#f4b183" stroke-width="1"/>
<line x1="210.48" y1="372.56" x2="210.48" y2="400.27" stroke="#f4b183" stroke-width="1"/>
<line x1="209.28" y1="400.27" x2="211.68" y2="400.27" stroke="#f4b183" stroke-width="1"/>
<line x1="214.78" y1="326.17" x2="214.78" y2="338.73" stroke="#f4b183" stroke-width="1"/>
<line x1="213.58" y1="326.17" x2="215.98" y2="326.17" stroke="#f4b183" stroke-width="1"/>
<line x1="214.78" y1="338.73" x2="214.78" y2="361.09" stroke="#f4b183" stroke-width="1"/>
<line x1="213.58" y1="361.09" x2="215.98" y2="361.09" stroke="#f4b183" stroke-width="1"/>
<line x1="218.95" y1="318.80" x2="218.95" y2="329.94" stroke="#f4b183" stroke-width="1"/>
<line x1="217.75" y1="318.80" x2="220.15" y2="318.80" stroke="#f4b183" stroke-width="1"/>
<line x1="218.95" y1="329.94" x2="218.95" y2="348.08" stroke="#f4b183" stroke-width="1"/>
<line x1="217.75" y1="348.08" x2="220.15" y2="348.08" stroke="#f4b183" stroke-width="1"/>
<line x1="225.28" y1="316.87" x2="225.28" y2="326.87" stroke="#f4b183" stroke-width="1"/>
<line x1="224.08" y1="316.87" x2="226.48" y2="316.87" stroke="#f4b183" stroke-width="1"/>
<line x1="225.28" y1="326.87" x2="225.28" y2="342.12" stroke="#f4b183" stroke-width="1"/>
<line x1="224.08" y1="342.12" x2="226.48" y2="342.12" stroke="#f4b183" stroke-width="1"/>
<line x1="231.61" y1="317.86" x2="231.61" y2="327.35" stroke="#f4b183" stroke-width="1"/>
<line x1="230.41" y1="317.86" x2="232.81" y2="317.86" stroke="#f4b183" stroke-width="1"/>
<line x1="231.61" y1="327.35" x2="231.61" y2="341.43" stroke="#f4b183" stroke-width="1"/>
<line x1="230.41" y1="341.43" x2="232.81" y2="341.43" stroke="#f4b183" stroke-width="1"/>
<line x1="256.92" y1="331.02" x2="256.92" y2="341.14" stroke="#f4b183" stroke-width="1"/>
<line x1="255.72" y1="331.02" x2="258.12" y2="331.02" stroke="#f4b183" stroke-width="1"/>
<line x1="256.92" y1="341.14" x2="256.92" y2="356.68" stroke="#f4b183" stroke-width="1"/>
<line x1="255.72" y1="356.68" x2="258.12" y2="356.68" stroke="#f4b183" stroke-width="1"/>
<line x1="282.22" y1="342.02" x2="282.22" y2="352.14" stroke="#f4b183" stroke-width="1"/>
<line x1="281.02" y1="342.02" x2="283.42" y2="342.02" stroke="#f4b183" stroke-width="1"/>
<line x1="282.22" y1="352.14" x2="282.22" y2="367.66" stroke="#f4b183" stroke-width="1"/>
<line x1="281.02" y1="367.66" x2="283.42" y2="367.66" stroke="#f4b183" stroke-width="1"/>
<line x1="307.53" y1="349.59" x2="307.53" y2="360.34" stroke="#f4b183" stroke-width="1"/>
<line x1="306.33" y1="349.59" x2="308.73" y2="349.59" stroke="#f4b183" stroke-width="1"/>
<line x1="307.53" y1="360.34" x2="307.53" y2="377.43" stroke="#f4b183" stroke-width="1"/>
<line x1="306.33" y1="377.43" x2="308.73" y2="377.43" stroke="#f4b183" stroke-width="1"/>
<line x1="332.84" y1="350.90" x2="332.84" y2="359.07" stroke="#f4b183" stroke-width="1"/>
<line x1="331.64" y1="350.90" x2="334.04" y2="350.90" stroke="#f4b183" stroke-width="1"/>
<line x1="332.84" y1="359.07" x2="332.84" y2="370.40" stroke="#f4b183" stroke-width="1"/>
<line x1="331.64" y1="370.40" x2="334.04" y2="370.40" stroke="#f4b183" stroke-width="1"/>
<line x1="358.15" y1="351.58" x2="358.15" y2="361.28" stroke="#f4b183" stroke-width="1"/>
<line x1="356.95" y1="351.58" x2="359.35" y2="351.58" stroke="#f4b183" stroke-width="1"/>
<line x1="358.15" y1="361.28" x2="358.15" y2="375.82" stroke="#f4b183" stroke-width="1"/>
<line x1="356.95" y1="375.82" x2="359.35" y2="375.82" stroke="#f4b183" stroke-width="1"/>
<line x1="510.00" y1="367.90" x2="510.00" y2="375.82" stroke="#f4b183" stroke-width="1"/>
<line x1="508.80" y1="367.90" x2="511.20" y2="367.90" stroke="#f4b183" stroke-width="1"/>
<line x1="510.00" y1="375.82" x2="510.00" y2="386.69" stroke="#f4b183" stroke-width="1"/>
<line x1="508.80" y1="386.69" x2="511.20" y2="386.69" stroke="#f4b183" stroke-width="1"/>
<polyline points="210.48,388.09 214.78,343.35 218.95,331.64 225.28,326.22 231.61,325.42 256.92,339.63 282.22,352.14 307.53,362.25 332.84,362.05 358.15,365.38 510.00,386.69" fill="none" stroke="#2e75b6" stroke-width="1.25" stroke-linejoin="round"/>
<rect x="208.28" y="385.89" width="4.4" height="4.4" fill="#4472c4"/>
<rect x="212.58" y="341.15" width="4.4" height="4.4" fill="#4472c4"/>
<rect x="216.75" y="329.44" width="4.4" height="4.4" fill="#4472c4"/>
<rect x="223.08" y="324.02" width="4.4" height="4.4" fill="#4472c4"/>
<rect x="229.41" y="323.22" width="4.4" height="4.4" fill="#4472c4"/>
<rect x="254.72" y="337.43" width="4.4" height="4.4" fill="#4472c4"/>
<rect x="280.02" y="349.94" width="4.4" height="4.4" fill="#4472c4"/>
<rect x="305.33" y="360.05" width="4.4" height="4.4" fill="#4472c4"/>
<rect x="330.64" y="359.85" width="4.4" height="4.4" fill="#4472c4"/>
<rect x="355.95" y="363.18" width="4.4" height="4.4" fill="#4472c4"/>
<rect x="507.80" y="384.49" width="4.4" height="4.4" fill="#4472c4"/>
<polyline points="210.48,372.56 214.78,338.73 218.95,329.94 225.28,326.87 231.61,327.35 256.92,341.14 282.22,352.14 307.53,360.34 332.84,359.07 358.15,361.28 510.00,375.82" fill="none" stroke="#ed7d31" stroke-width="1.25" stroke-linejoin="round"/>
<circle cx="210.48" cy="372.56" r="2.3" fill="#ed7d31"/>
<circle cx="214.78" cy="338.73" r="2.3" fill="#ed7d31"/>
<circle cx="218.95" cy="329.94" r="2.3" fill="#ed7d31"/>
<circle cx="225.28" cy="326.87" r="2.3" fill="#ed7d31"/>
<circle cx="231.61" cy="327.35" r="2.3" fill="#ed7d31"/>
<circle cx="256.92" cy="341.14" r="2.3" fill="#ed7d31"/>
<circle cx="282.22" cy="352.14" r="2.3" fill="#ed7d31"/>
<circle cx="307.53" cy="360.34" r="2.3" fill="#ed7d31"/>
<circle cx="332.84" cy="359.07" r="2.3" fill="#ed7d31"/>
<circle cx="358.15" cy="361.28" r="2.3" fill="#ed7d31"/>
<circle cx="510.00" cy="375.82" r="2.3" fill="#ed7d31"/>
<line x1="428.20" y1="309.40" x2="440.70" y2="309.40" stroke="#3f86d0" stroke-width="1.2"/>
<rect x="431.10" y="306.10" width="6.6" height="6.6" fill="#4472c4"/>
<text x="441.30" y="312.90" font-size="9.7" text-anchor="start"  >MMF</text>
<line x1="428.20" y1="329.70" x2="440.70" y2="329.70" stroke="#ed7d31" stroke-width="1.3"/>
<circle cx="434.6" cy="329.7" r="3.1" fill="#ed7d31"/>
<text x="441.30" y="333.20" font-size="9.7" text-anchor="start"  >MMF+TMP-SMX</text>
</svg>
</body></html>
